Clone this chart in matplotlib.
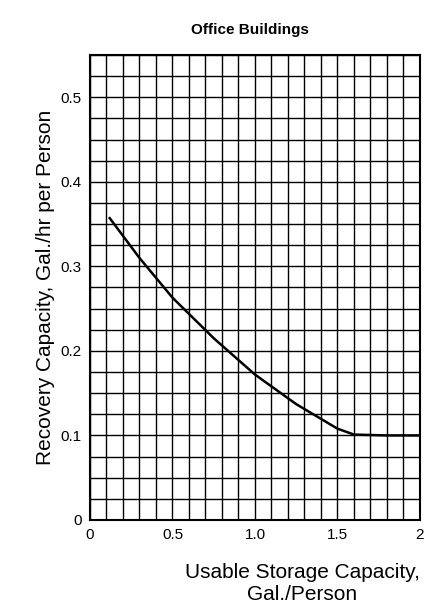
import matplotlib
matplotlib.use("Agg")
import matplotlib.pyplot as plt
import numpy as np

plt.rcParams['font.family'] = ['Liberation Sans', 'DejaVu Sans']

storage = [0.12, 0.3, 0.5, 0.75, 1.0, 1.25, 1.5, 1.6, 1.8, 2.0]
recovery = [0.357, 0.31, 0.263, 0.215, 0.172, 0.137, 0.108, 0.101, 0.1, 0.1]
xticks = [0, 0.5, 1.0, 1.5, 2]
xticklabels = ["0", "0.5", "1.0", "1.5", "2"]
yticks = [0, 0.1, 0.2, 0.3, 0.4, 0.5]
yticklabels = ["0", "0.1", "0.2", "0.3", "0.4", "0.5"]

fig = plt.figure(figsize=(4.43, 6.11), dpi=100)
ax = fig.add_axes([0.203, 0.149, 0.745, 0.761])
ax.set_xlim(0, 2)
ax.set_ylim(0, 0.55)
for x in np.arange(0, 2.01, 0.1):
    ax.axvline(x, color="black", lw=1.0)
for y in np.arange(0, 0.551, 0.025):
    ax.axhline(y, color="black", lw=1.0)
ax.plot(storage, recovery, color="black", lw=1.8)
ax.set_xticks(xticks)
ax.set_xticklabels(xticklabels, fontsize=11)
ax.set_yticks(yticks)
ax.set_yticklabels(yticklabels, fontsize=11)
ax.tick_params(length=0, pad=6)
for s in ax.spines.values():
    s.set_linewidth(1.5)
ax.set_ylabel("Recovery Capacity, Gal./hr per Person", fontsize=15)
fig.text(0.948, 0.045, "Usable Storage Capacity,\nGal./Person", fontsize=15,
         ha="right", va="center", multialignment="center")
fig.text(0.565, 0.945, "Office Buildings", fontsize=11, fontweight="bold", ha="center")
fig.savefig("out.png", dpi=100)
